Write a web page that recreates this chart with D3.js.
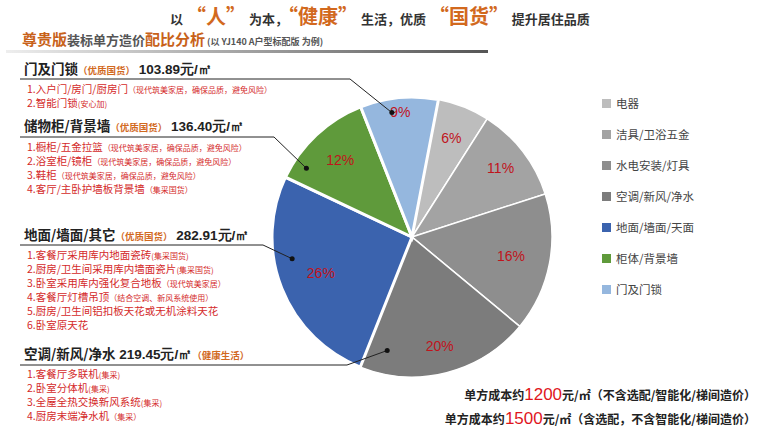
<!DOCTYPE html>
<html><head><meta charset="utf-8">
<script src="https://cdn.jsdelivr.net/npm/d3@7/dist/d3.min.js"></script>
<style>body{margin:0;background:#fff}svg{font-family:"Noto Sans CJK SC","Noto Sans",sans-serif}</style>
</head><body><svg id="c" width="760" height="431"></svg>
<script>
const categories=["电器","洁具/卫浴五金","水电安装/灯具","空调/新风/净水","地面/墙面/天面","柜体/背景墙","门及门锁"];
const values=[6,11,16,20,26,12,9];
const colors=["#bdbdbd","#a3a3a3","#8e8e8e","#7c7c7c","#3b63ae","#5f9a3b","#95b7de"];
const groups=[
 {title:"门及门锁",tag:"（优质国货）",price:"103.89元/㎡",tagFirst:true,slice:6,items:["1.入户门/房门/厨房门（现代筑美家居，确保品质，避免风险）","2.智能门锁(安心加)"]},
 {title:"储物柜/背景墙",tag:"（优质国货）",price:"136.40元/㎡",tagFirst:true,slice:5,items:["1.橱柜/五金拉篮（现代筑美家居，确保品质，避免风险）","2.浴室柜/镜柜（现代筑美家居，确保品质，避免风险）","3.鞋柜（现代筑美家居，确保品质，避免风险）","4.客厅/主卧护墙板背景墙（集采国货）"]},
 {title:"地面/墙面/其它",tag:"（优质国货）",price:"282.91元/㎡",tagFirst:true,slice:4,items:["1.客餐厅采用库内地面瓷砖(集采国货)","2.厨房/卫生间采用库内墙面瓷片(集采国货)","3.卧室采用库内强化复合地板（现代筑美家居）","4.客餐厅灯槽吊顶（结合空调、新风系统使用）","5.厨房/卫生间铝扣板天花或无机涂料天花","6.卧室原天花"]},
 {title:"空调/新风/净水",tag:"（健康生活）",price:"219.45元/㎡",tagFirst:false,slice:3,items:["1.客餐厅多联机(集采)","2.卧室分体机(集采)","3.全屋全热交换新风系统(集采)","4.厨房末端净水机（集采）"]}
];
const svg=d3.select("#c");
const t=svg.append("text").attr("x",380).attr("y",24).attr("text-anchor","middle").attr("fill","#333").attr("font-size",13).attr("font-weight","bold");
[["以 ",0],["“人”",1],[" 为本，",0],["“健康”",1],[" 生活，优质 ",0],["“国货”",1],["  提升居住品质",0]].forEach(([s,o])=>t.append("tspan").text(s).attr("fill",o?"#d2691e":"#333").attr("font-size",o?20:13));
const st=svg.append("text").attr("x",22).attr("y",45).attr("font-weight","bold");
[["尊贵版","#c8621a",15],["装标单方造价","#555",13],["配比分析","#c8621a",15],[" (以 YJ140 A户型标配版 为例)","#555",9]].forEach(([s,c,f])=>st.append("tspan").text(s).attr("fill",c).attr("font-size",f));
const g=svg.append("defs").append("linearGradient").attr("id","gl");
g.append("stop").attr("offset",0).attr("stop-color","#eee");g.append("stop").attr("offset",1).attr("stop-color","#555");
svg.append("rect").attr("x",6).attr("y",50).attr("width",482).attr("height",3).attr("fill","url(#gl)");
const cx=412,cy=237,R=140,off=0.19;
const pie=d3.pie().sort(null).value(d=>d).startAngle(off).endAngle(off+2*Math.PI);
const arcs=pie(values);
const arc=d3.arc().innerRadius(0).outerRadius(R);
const pg=svg.append("g").attr("transform",`translate(${cx},${cy})`);
pg.selectAll("path").data(arcs).join("path").attr("d",arc).attr("fill",(d,i)=>colors[i]).attr("stroke","#fff").attr("stroke-width",(d,i)=>i>=4?3:1.5);
const lr=[0.76,0.8,0.72,0.8,0.7,0.75,0.9];
pg.selectAll("text.p").data(arcs).join("text").attr("class","p")
 .attr("transform",(d,i)=>{const a=(d.startAngle+d.endAngle)/2;return `translate(${Math.sin(a)*R*lr[i]},${-Math.cos(a)*R*lr[i]+5})`})
 .attr("text-anchor","middle").attr("font-size",14).attr("fill","#c0141c").attr("font-family","Liberation Sans,Arial").text(d=>d.data+"%");
const lg=svg.append("g");
categories.forEach((c,i)=>{const y=104+i*31;
 lg.append("rect").attr("x",602).attr("y",y-5).attr("width",9).attr("height",9).attr("fill",colors[i]);
 lg.append("text").attr("x",616).attr("y",y+4).attr("font-size",11.5).attr("fill","#444").text(c);});
const hy=[79,137,245,365],hb=[74,131,240,359],ih=[[93,107],[151,165,179,193],[259,273,287,301,315,329],[378,392,406,420]];
const dotR=[0.9,0.9,0.87,0.83],dotF=[0.38,0.18,0.62,0.87];
const lineEnd=[350,274,263,347];
groups.forEach((gr,k)=>{
 const tx=svg.append("text").attr("x",24).attr("y",hb[k]).attr("fill","#222").attr("font-size",13.5).attr("font-weight","bold");
 tx.append("tspan").text(gr.title);
 if(gr.tagFirst){tx.append("tspan").text(gr.tag).attr("fill","#d2691e").attr("font-size",9.5);tx.append("tspan").text(" "+gr.price).attr("font-family","Liberation Sans,Arial");}
 else{tx.append("tspan").text("  "+gr.price).attr("font-family","Liberation Sans,Arial");tx.append("tspan").text(gr.tag).attr("fill","#d2691e").attr("font-size",9.5);}
 gr.items.forEach((s,j)=>{const m=s.match(/^(.*?)([（(].*)?$/);
  const it=svg.append("text").attr("x",27).attr("y",ih[k][j]).attr("fill","#d42a2a").attr("font-size",10.5);
  it.append("tspan").text(m[1]);if(m[2])it.append("tspan").text(m[2]).attr("font-size",8);});
 const d=arcs[gr.slice],a=d.startAngle+(d.endAngle-d.startAngle)*dotF[k];
 const px=cx+Math.sin(a)*R*dotR[k],py=cy-Math.cos(a)*R*dotR[k];
 svg.append("polyline").attr("points",`20,${hy[k]} ${lineEnd[k]},${hy[k]} ${px},${py}`).attr("fill","none").attr("stroke","#222").attr("stroke-width",1);
 svg.append("circle").attr("cx",px).attr("cy",py).attr("r",2.5).attr("fill","#111");
});
[["单方成本约","1200","元/㎡（不含选配/智能化/梯间造价）",400],["单方成本约","1500","元/㎡（含选配，不含智能化/梯间造价）",424]].forEach(([a,b,c,y])=>{
 const tt=svg.append("text").attr("x",756).attr("y",y).attr("text-anchor","end").attr("font-size",12).attr("font-weight","bold").attr("fill","#222");
 tt.append("tspan").text(a);tt.append("tspan").text(b).attr("fill","#e0161c").attr("font-size",17).attr("font-weight","normal").attr("font-family","Liberation Sans,Arial");tt.append("tspan").text(c);});
</script></body></html>
